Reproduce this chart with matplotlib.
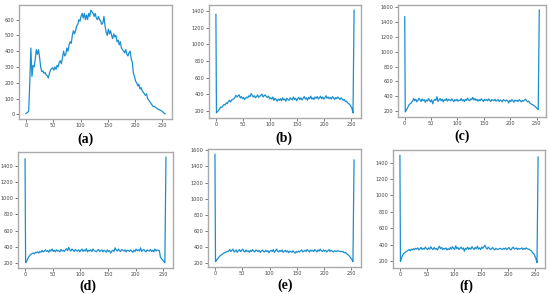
import matplotlib
matplotlib.use("Agg")
import matplotlib.pyplot as plt

# x positions (gray levels sampled)
x_levels = [0] + list(range(1, 256, 2))

hist_a = [5, 8, 12, 20, 200, 420, 240, 310, 300, 350, 410, 380, 410, 360, 300, 270,
          275, 260, 265, 250, 245, 230, 260, 280, 290, 295, 280, 300, 285, 310, 300, 330,
          340, 320, 360, 400, 370, 380, 420, 400, 440, 460, 450, 500, 530, 510, 530, 560,
          570, 600, 590, 620, 640, 610, 640, 600, 630, 600, 640, 620, 660, 650, 640, 620,
          640, 610, 600, 620, 600, 590, 570, 580, 620, 560, 520, 500, 540, 510, 530, 500,
          480, 510, 490, 500, 460, 470, 440, 460, 420, 410, 400, 390, 410, 380, 370, 390,
          400, 350, 330, 260, 240, 210, 200, 180, 190, 160, 170, 150, 140, 130, 120, 130,
          100, 90, 80, 70, 60, 50, 50, 45, 40, 35, 30, 28, 25, 20, 15, 8,
          3]

hist_b = [1360, 180, 195, 210, 230, 250, 245, 265, 280, 275, 300, 290, 315, 330, 310, 335,
          340, 350, 365, 390, 370, 385, 395, 360, 375, 350, 365, 340, 355, 370, 360, 385,
          375, 410, 390, 370, 385, 360, 375, 395, 365, 380, 390, 405, 370, 385, 395, 375,
          365, 380, 350, 360, 345, 370, 330, 355, 340, 320, 345, 330, 350, 325, 360, 335,
          345, 320, 355, 340, 330, 360, 345, 335, 370, 340, 355, 325, 350, 365, 340, 360,
          335, 355, 375, 345, 360, 330, 365, 350, 380, 345, 360, 340, 370, 355, 375, 345,
          360, 380, 350, 370, 345, 360, 385, 355, 370, 350, 365, 345, 375, 360, 340, 365,
          350, 370, 355, 340, 360, 345, 330, 340, 315, 320, 300, 290, 280, 260, 235, 180,
          1410]

hist_c = [1470, 190, 215, 240, 270, 295, 300, 320, 335, 370, 340, 360, 325, 345, 375, 350,
          330, 365, 340, 355, 320, 350, 335, 370, 345, 325, 355, 300, 340, 360, 345, 395,
          330, 350, 370, 340, 360, 325, 355, 345, 370, 335, 360, 350, 340, 365, 345, 330,
          355, 340, 360, 335, 350, 345, 370, 340, 355, 330, 360, 345, 375, 350, 340, 365,
          355, 385, 350, 370, 345, 360, 335, 355, 340, 365, 350, 330, 360, 345, 355, 340,
          365, 345, 330, 355, 350, 340, 360, 335, 345, 355, 330, 350, 340, 325, 355, 345,
          335, 350, 340, 310, 345, 330, 355, 340, 320, 350, 335, 345, 330, 355, 340, 325,
          345, 335, 350, 360, 340, 325, 335, 310, 300, 290, 285, 275, 265, 250, 235, 220,
          1560]

hist_d = [1490, 200, 220, 250, 275, 295, 305, 315, 320, 310, 330, 325, 335, 320, 340, 330,
          355, 335, 345, 360, 340, 350, 330, 360, 345, 370, 340, 355, 335, 360, 345, 350,
          335, 365, 345, 355, 340, 360, 375, 350, 390, 360, 345, 370, 355, 340, 365, 350,
          345, 360, 335, 355, 370, 340, 360, 345, 375, 335, 355, 345, 360, 340, 370, 350,
          345, 335, 355, 365, 340, 350, 360, 335, 355, 345, 330, 360, 340, 350, 320, 345,
          355, 340, 385, 360, 345, 370, 350, 340, 365, 355, 345, 360, 335, 355, 350, 340,
          360, 345, 330, 355, 340, 370, 350, 360, 345, 385, 340, 355, 365, 345, 335, 360,
          350, 345, 365, 340, 355, 335, 370, 345, 360, 355, 350, 270, 250, 235, 215, 200,
          1510]

hist_e = [1550, 220, 240, 255, 275, 290, 300, 310, 320, 330, 335, 340, 345, 350, 370, 345,
          360, 375, 340, 350, 365, 335, 355, 370, 345, 360, 375, 350, 340, 365, 345, 355,
          335, 360, 345, 370, 350, 340, 365, 355, 345, 360, 335, 350, 365, 345, 340, 360,
          345, 355, 330, 350, 360, 345, 370, 335, 355, 375, 350, 340, 360, 345, 365, 335,
          350, 360, 340, 355, 330, 350, 345, 335, 355, 340, 325, 345, 335, 350, 340, 355,
          365, 340, 350, 360, 345, 370, 355, 340, 365, 350, 360, 345, 370, 355, 340, 365,
          350, 375, 355, 345, 365, 350, 360, 340, 355, 370, 345, 360, 350, 340, 355, 350,
          345, 355, 350, 345, 350, 340, 345, 330, 335, 320, 310, 300, 285, 265, 245, 220,
          1480]

hist_f = [1490, 195, 240, 270, 290, 300, 315, 320, 330, 340, 325, 345, 335, 350, 340, 355,
          345, 360, 335, 350, 365, 340, 355, 345, 370, 350, 340, 360, 345, 375, 350, 340,
          365, 345, 355, 335, 360, 380, 350, 365, 340, 355, 345, 360, 335, 350, 340, 365,
          345, 375, 355, 340, 385, 350, 365, 340, 355, 370, 345, 360, 320, 355, 345, 370,
          340, 360, 345, 375, 355, 340, 365, 350, 380, 345, 360, 340, 370, 355, 375, 390,
          360, 345, 370, 355, 340, 350, 365, 345, 335, 355, 345, 340, 350, 355, 345, 340,
          355, 345, 360, 340, 350, 365, 345, 335, 355, 370, 345, 350, 360, 340, 355, 345,
          350, 360, 340, 355, 345, 360, 350, 345, 340, 330, 320, 300, 290, 260, 230, 180,
          1470]

panel_labels = ["(a)", "(b)", "(c)", "(d)", "(e)", "(f)"]
series = [hist_a, hist_b, hist_c, hist_d, hist_e, hist_f]

W, H = 550, 294
fig = plt.figure(figsize=(W / 100, H / 100), dpi=100)

# axes boxes in pixels: left, top, right, bottom
boxes = [(19, 5, 172, 119), (209, 5, 361, 118), (398, 5, 546, 117),
         (18, 152, 173, 268), (208, 149, 361, 267), (393, 150, 545, 268)]
label_pos = [(86, 139), (284, 138), (462, 136), (88, 286), (285, 285), (466, 286)]

line_color = "#1a8fd0"
for i, (ys, lab) in enumerate(zip(series, panel_labels)):
    l, t, r, b = boxes[i]
    ax = fig.add_axes([l / W, 1 - b / H, (r - l) / W, (b - t) / H])
    ax.plot(x_levels, ys, color=line_color, lw=0.9)
    ax.set_xticks([0, 50, 100, 150, 200, 250])
    ax.tick_params(labelsize=3.6, length=2, width=0.5, pad=1.2, colors="#444444")
    for s in ax.spines.values():
        s.set_color("#aaaaaa")
        s.set_linewidth(1.0)
    lx, ly = label_pos[i]
    fig.text(lx / W, 1 - ly / H, lab, ha="center", va="center",
             fontsize=10, fontweight="bold", family="Liberation Serif")

fig.savefig("out.png", dpi=100)
